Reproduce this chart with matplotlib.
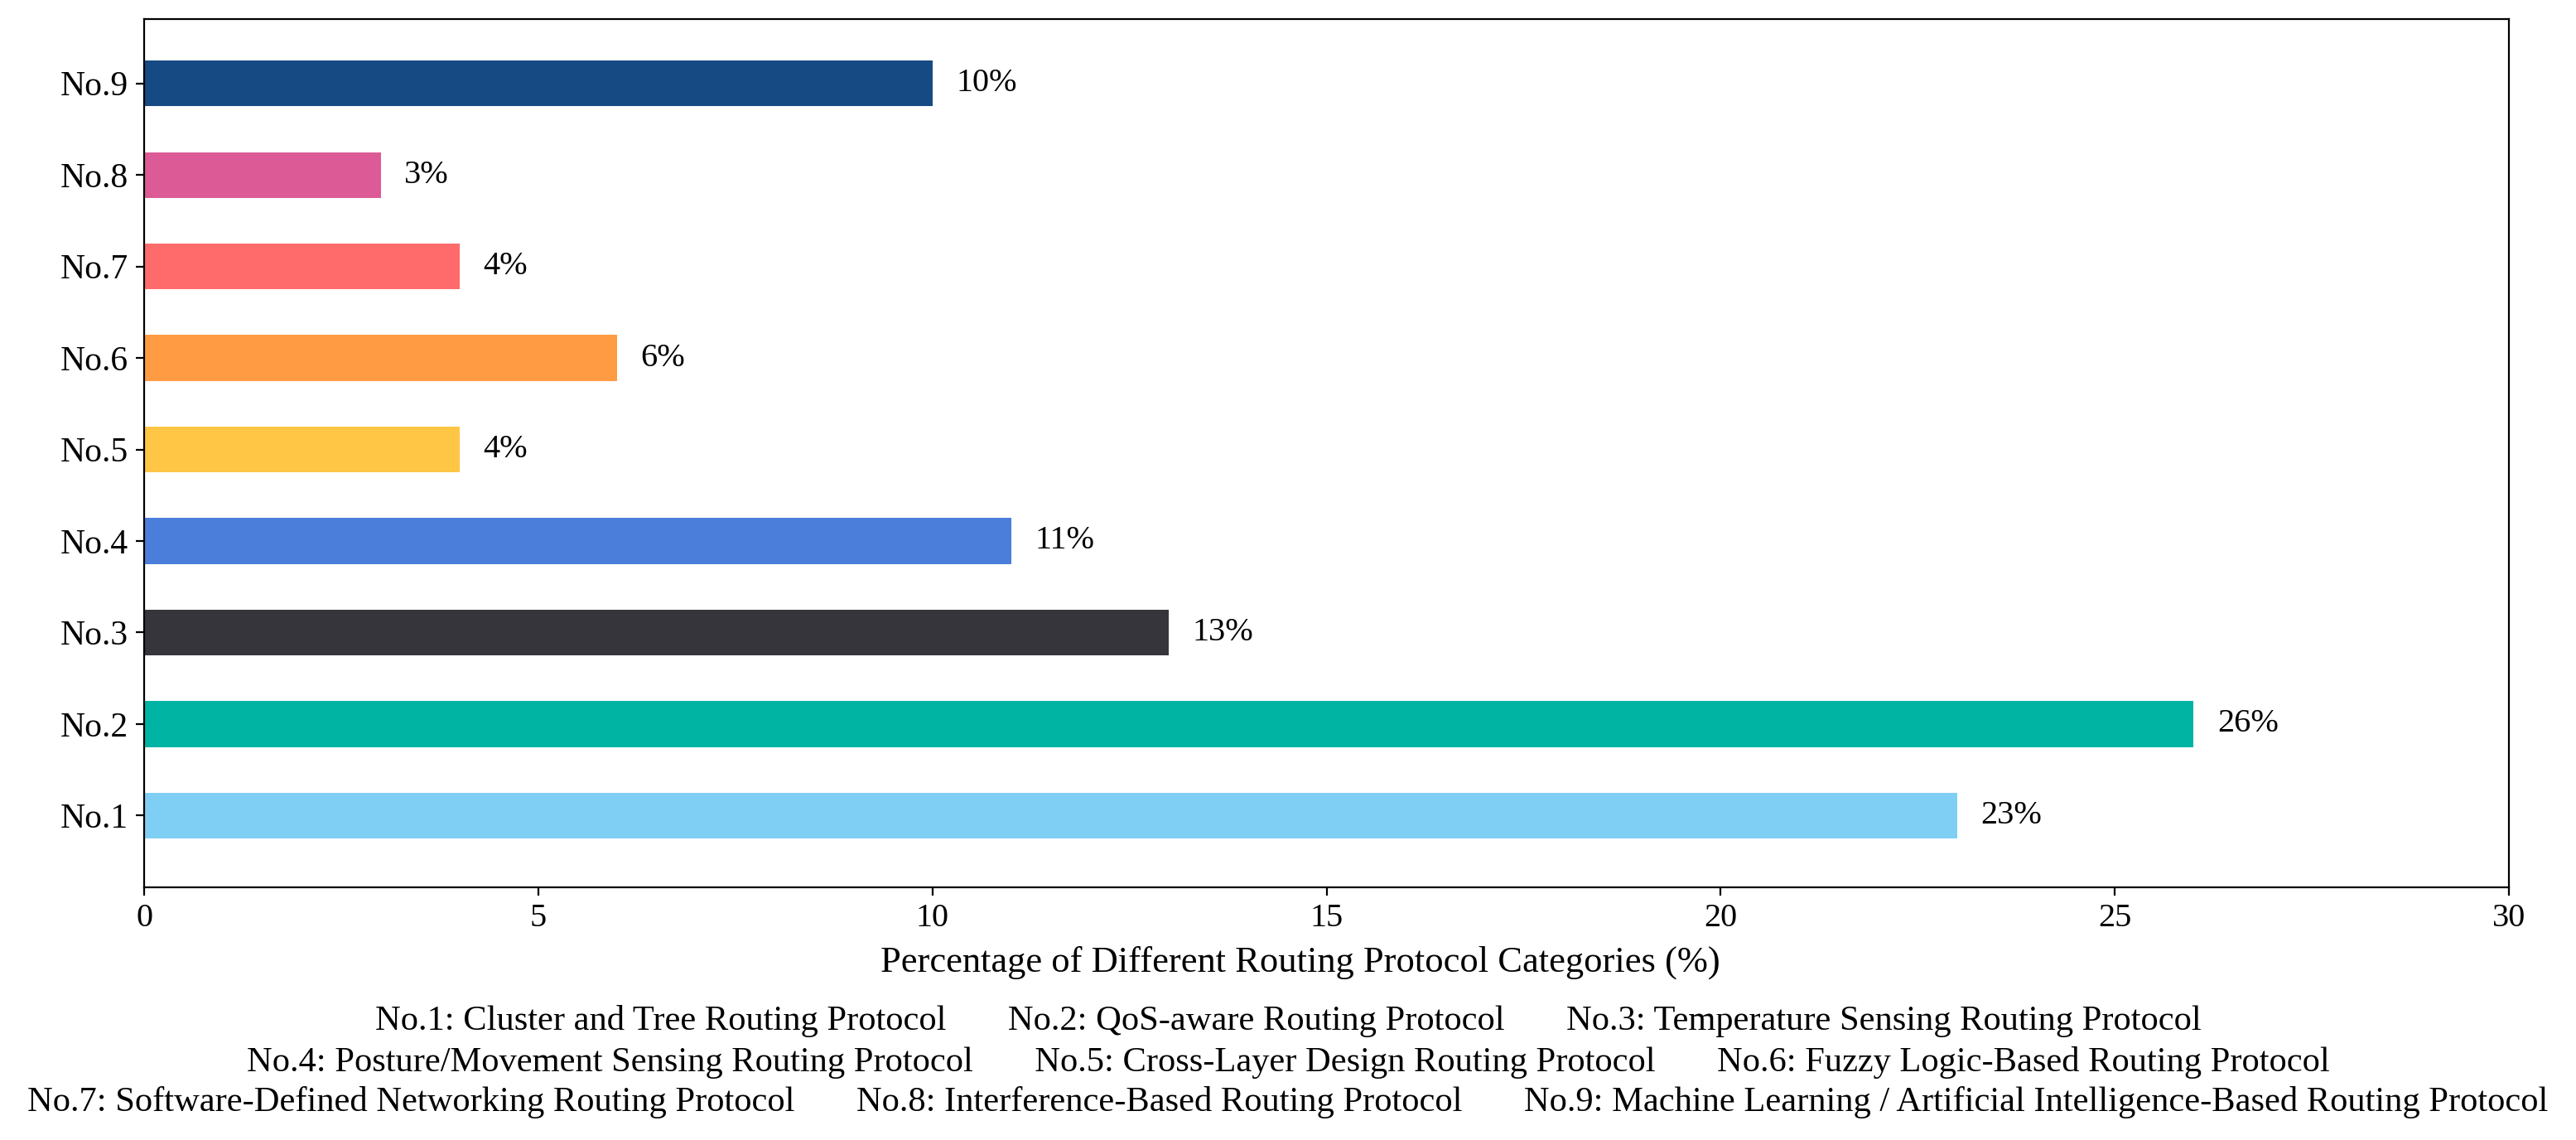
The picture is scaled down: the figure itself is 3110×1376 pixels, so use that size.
import matplotlib
matplotlib.use('Agg')
import matplotlib.pyplot as plt

# categories and values
labels = ['No.1', 'No.2', 'No.3', 'No.4', 'No.5', 'No.6', 'No.7', 'No.8', 'No.9']
values = [23, 26, 13, 11, 4, 6, 4, 3, 10]
colors = ['#7FCFF5', '#00B4A4', '#36353C', '#4A7EDA', '#FFC544', '#FF9B42',
          '#FF6B6B', '#DC5B96', '#154A83']
names = ['Cluster and Tree Routing Protocol',
         'QoS-aware Routing Protocol',
         'Temperature Sensing Routing Protocol',
         'Posture/Movement Sensing Routing Protocol',
         'Cross-Layer Design Routing Protocol',
         'Fuzzy Logic-Based Routing Protocol',
         'Software-Defined Networking Routing Protocol',
         'Interference-Based Routing Protocol',
         'Machine Learning / Artificial Intelligence-Based Routing Protocol']

plt.rcParams['font.family'] = ['Liberation Serif', 'DejaVu Serif']

fig = plt.figure(figsize=(15.55, 6.88), dpi=200)
ax = fig.add_axes([0.056, 0.222, 0.918, 0.761])

ypos = list(range(len(labels)))
ax.barh(ypos, values, height=0.5, color=colors)
for y, v in zip(ypos, values):
    ax.text(v + 0.3, y, f'{v}%', va='center', ha='left', fontsize=14.5)

ax.set_yticks(ypos)
ax.set_yticklabels(labels, fontsize=15)
ax.set_xlim(0, 30)
ax.set_xticks([0, 5, 10, 15, 20, 25, 30])
ax.tick_params(axis='x', labelsize=14.5)
ax.set_ylim(-0.78, 8.7)
ax.set_xlabel('Percentage of Different Routing Protocol Categories (%)', fontsize=16)
ax.xaxis.set_label_coords(0.489, -0.068)

# legend lines under the chart
sep = '       '
rows = [[0, 1, 2], [3, 4, 5], [6, 7, 8]]
ys = [0.104, 0.068, 0.033]
for r, yy in zip(rows, ys):
    line = sep.join(f'{labels[i]}: {names[i]}' for i in r)
    fig.text(0.50, yy, line, ha='center', va='center', fontsize=15.3)

fig.savefig('out.png', dpi=200)
